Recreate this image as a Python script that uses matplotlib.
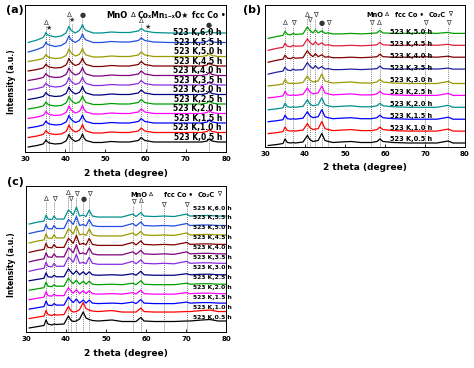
import matplotlib
matplotlib.use("Agg")
import matplotlib.pyplot as plt

plt.rcParams['font.family'] = ['DejaVu Sans']

# ---- data (intensity in arbitrary units) ----
labels_a = ["0.5", "1.0", "1.5", "2.0", "2.5", "3.0", "3.5", "4.0", "4.5", "5.0", "5.5", "6.0"]
labels_b = ["0.5", "1.0", "1.5", "2.0", "2.5", "3.0", "3.5", "4.0", "4.5", "5.0"]
labels_c = labels_a

theta_a = [30.8, 33, 34.5, 35.0, 35.2, 35.5, 36, 37.5, 39, 40.2, 40.6, 40.9, 41.5, 42.5, 43.5,
           44.0, 44.3, 44.7, 45.2, 47, 49, 51.5, 53.5, 56, 58.2, 58.9, 59.8, 62, 66, 70, 74,
           75.3, 75.8, 76.5, 78, 80]
early_a = [0, 1.5, 3, 5.5, 7, 5.5, 4, 3, 3.5, 6, 9, 12.5, 8.5, 5.5, 7, 10, 13, 9, 6.5, 4.5,
           4.5, 5.5, 5, 5, 6.5, 9.5, 6.5, 5, 5, 5, 5, 6, 8, 6, 5, 5]
late_a = [0, 2.5, 5, 8, 10, 8, 7, 5.5, 6.5, 9.5, 13, 16, 12, 9.5, 12, 15, 18, 14, 12, 9.5,
          9.5, 10.5, 10, 10, 11.5, 14, 11.5, 10, 9.5, 9.5, 9.5, 10.5, 12, 10, 9.5, 9.5]
which_a = [0, 0, 0, 0, 0, 0, 0, 0, 0, 0, 1, 1]

theta_b = [30.8, 33, 34.5, 35.0, 35.6, 36.5, 37.0, 37.6, 39.5, 40.6, 41.2, 42.0, 42.6, 43.3,
           44.2, 45.0, 45.8, 47, 49, 51.5, 54, 56.6, 58.0, 58.7, 59.5, 62, 66, 70, 73, 75.8, 77, 80]
early_b = [0, 1, 2, 6.5, 3, 2.5, 3, 2.5, 3.5, 10, 6, 4, 4.5, 5, 12, 5, 4, 3, 3.5, 4, 3, 3, 4,
           6.5, 4, 3, 2.5, 2.5, 2.5, 4.5, 2.5, 2.5]
late_b = [0, 2, 3, 7, 4, 3.5, 5, 4, 4.5, 11.5, 8, 5.5, 8.5, 5.5, 7.5, 5, 5.5, 4.5, 4.5, 5, 4.5,
          5, 5.5, 8, 5.5, 5, 5, 5.5, 5, 6, 5, 5]
which_b = [0, 0, 0, 0, 0, 0, 1, 1, 1, 1]

theta_c = [30.8, 33, 34.5, 35.0, 35.5, 36.5, 37.0, 37.6, 39.5, 40.6, 41.2, 41.8, 42.6, 43.4,
           44.3, 45.0, 45.8, 46.6, 48, 51.5, 54, 56.7, 57.5, 58.7, 59.5, 62, 64.4, 67, 70.2,
           71, 74, 76, 78, 80]
early_c = [0, 1.5, 2.5, 8, 4, 3, 4, 3.5, 4, 12, 8, 6.5, 7, 9, 16, 10, 8.5, 7.5, 7, 8, 6.5,
           6.5, 6.5, 10.5, 7, 6.5, 6.5, 6.5, 7, 7, 8, 8.5, 7, 7]
mid_c = [0, 1.5, 2.5, 8, 4, 3.5, 5.5, 4, 4, 12, 9, 6.5, 10, 6, 9, 6, 9, 6, 5.5, 6, 5.5, 7,
         5.5, 9.5, 6, 5.5, 5.5, 5.5, 7, 6, 6.5, 6.5, 6, 6]
late_c = [0, 2, 3, 9, 5, 4.5, 8, 5, 5, 14, 12, 9, 17, 8, 9, 7.5, 14, 8, 7, 7, 7, 10, 7.5,
          11.5, 8, 7.5, 8, 7.5, 10, 8, 8.5, 8.5, 8, 8]
which_c = [0, 0, 1, 1, 1, 1, 2, 2, 2, 2, 2, 2]

# reference peak lines: (2theta, symbol, height of symbol)
peaks_a = [(35.2, "Δ", 129), (35.9, "★", 124), (40.9, "Δ", 137), (41.6, "★", 132),
           (44.3, "●", 137), (58.9, "Δ", 131), (60.4, "★", 125), (75.8, "●", 127)]
peaks_b = [(35.0, "Δ", 124), (37.0, "∇", 124), (40.6, "Δ", 132), (41.2, "∇", 127),
           (42.6, "∇", 132), (44.2, "●", 124), (45.8, "∇", 124), (56.6, "∇", 124),
           (58.7, "Δ", 124), (70.0, "∇", 124), (75.8, "∇", 124)]
peaks_c = [(35.0, "Δ", 133), (37.0, "∇", 133), (40.6, "Δ", 139), (41.2, "∇", 133),
           (42.6, "∇", 138), (44.3, "●", 133), (45.8, "∇", 138), (56.8, "∇", 130),
           (58.8, "Δ", 131), (64.4, "∇", 127), (70.2, "∇", 127)]

colors_12 = ["black", "red", "blue", "#ff00ff", "#00a000", "#000080", "#8a2be2", "#800080",
             "#800000", "#9a9a00", "#2050e0", "#009090"]
colors_10 = ["black", "red", "blue", "#009090", "#ff00ff", "#9a9a00", "#2020a0", "#800000",
             "#e02040", "#00a000"]

fig = plt.figure(figsize=(4.74, 3.68), dpi=100)
W, H = 474.0, 368.0


def make_ax(left, top, right, bottom, pad):
    ax = fig.add_axes([left / W, 1 - bottom / H, (right - left) / W, (bottom - top) / H])
    ax.set_xlim(30, 80)
    ax.set_ylim(0, bottom - top)
    ax.set_yticks([])
    ax.set_xticks([30, 40, 50, 60, 70, 80])
    ax.tick_params(axis='x', direction='in', length=2, width=0.6, pad=3, labelsize=5)
    for lab in ax.get_xticklabels():
        lab.set_fontweight('bold')
    for s in ax.spines.values():
        s.set_linewidth(0.7)
    ax.set_xlabel("2 theta (degree)", fontsize=6.5, fontweight='bold', labelpad=pad)
    return ax


def draw(ax, theta, profiles, which, labels, colors, base, step, lab_x, lab_dy, lab_step,
         ha, fs, peaks, mfs):
    for x, sym, ys in peaks:
        ax.plot([x, x], [0, ys - 3], ls=(0, (1, 1.5)), color="#555555", lw=0.6, zorder=1)
        ax.text(x, ys, sym, ha='center', va='center', fontsize=mfs, color="#333333", zorder=4)
    for i, lab in enumerate(labels):
        off = base + i * step
        ys = [v + off for v in profiles[which[i]]]
        ax.plot(theta, ys, color=colors[i], lw=0.9, zorder=2)
        ax.text(lab_x, base + lab_dy + i * lab_step, "523 K," + lab + " h", ha=ha, va='center',
                fontsize=fs, fontweight='bold', zorder=5, clip_on=False)


ax_a = make_ax(25, 5, 226, 152, 5)
draw(ax_a, theta_a, [early_a, late_a], which_a, labels_a, colors_12, 5, 9.5, 79, 10, 9.5,
     'right', 5.5, peaks_a, 5)
ax_a.text(50.3, 137, "MnO", fontsize=6, fontweight='bold', va='center')
ax_a.text(56.4, 137, "Δ", fontsize=5, va='center')
ax_a.text(58.0, 137, "CoₓMn₁₋ₓO★", fontsize=5.5, fontweight='bold', va='center')
ax_a.text(71.6, 137, "fcc Co •", fontsize=5.5, fontweight='bold', va='center')

ax_b = make_ax(265, 5, 465, 147, 4)
draw(ax_b, theta_b, [early_b, late_b], which_b, labels_b, colors_10, 1.5, 11.9, 66.5, 6, 11.9,
     'center', 4.8, peaks_b, 5)
ax_b.text(55.4, 132, "MnO", fontsize=4.8, fontweight='bold', va='center')
ax_b.text(60.0, 132, "Δ", fontsize=4.3, va='center')
ax_b.text(62.5, 132, "fcc Co •", fontsize=4.8, fontweight='bold', va='center')
ax_b.text(71.0, 132, "Co₂C", fontsize=4.8, fontweight='bold', va='center')
ax_b.text(75.8, 132, "∇", fontsize=4.3, va='center')

ax_c = make_ax(26, 186, 226, 332, 5)
draw(ax_c, theta_c, [early_c, mid_c, late_c], which_c, labels_c, colors_12, 4, 9.45, 71.8, 11,
     9.9, 'left', 4.3, peaks_c, 5)
ax_c.text(56.1, 137, "MnO", fontsize=4.8, fontweight='bold', va='center')
ax_c.text(60.7, 137, "Δ", fontsize=4.3, va='center')
ax_c.text(64.5, 137, "fcc Co •", fontsize=4.8, fontweight='bold', va='center')
ax_c.text(73.0, 137, "Co₂C", fontsize=4.8, fontweight='bold', va='center')
ax_c.text(77.8, 137, "∇", fontsize=4.3, va='center')

fig.text(12 / W, 1 - 82 / H, "Intensity (a.u.)", rotation=90, ha='center', va='center',
         fontsize=5.5, fontweight='bold')
fig.text(12 / W, 1 - 265 / H, "Intensity (a.u.)", rotation=90, ha='center', va='center',
         fontsize=5.5, fontweight='bold')
fig.text(15 / W, 1 - 10 / H, "(a)", ha='center', va='center', fontsize=8, fontweight='bold')
fig.text(252 / W, 1 - 10 / H, "(b)", ha='center', va='center', fontsize=8, fontweight='bold')
fig.text(15 / W, 1 - 182 / H, "(c)", ha='center', va='center', fontsize=8, fontweight='bold')

fig.savefig("out.png", dpi=100)
